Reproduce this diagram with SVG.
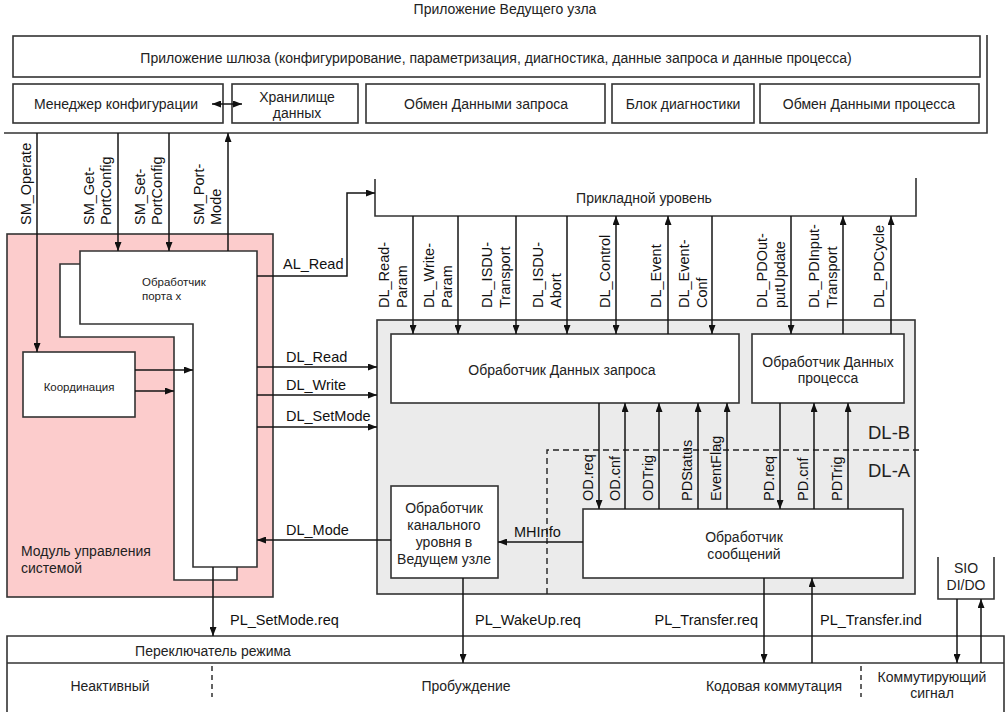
<svg xmlns="http://www.w3.org/2000/svg" width="1007" height="714" viewBox="0 0 1007 714">
<style>
.box{fill:#fff;stroke:#333;stroke-width:1.6}
.ln{fill:none;stroke:#151515;stroke-width:1.5}
.ar{marker-end:url(#ah)}
.ar2{marker-end:url(#ah);marker-start:url(#ah)}
.dash{fill:none;stroke:#222;stroke-width:1.4;stroke-dasharray:6,4}
text{font-family:"Liberation Sans",Arial,sans-serif;font-size:14px;fill:#222}
.m{text-anchor:middle}
.sig{font-size:14.5px;fill:#111}
.sm{font-size:11.5px}
.big{font-size:18.5px}
</style>
<defs>
<marker id="ah" viewBox="0 0 9 7" refX="9" refY="3.5" markerWidth="9" markerHeight="7" markerUnits="userSpaceOnUse" orient="auto-start-reverse">
<path d="M0,0 L9,3.5 L0,7 z" fill="#111"/>
</marker>
</defs>
<rect width="1007" height="714" fill="#fff"/>

<text class="m" x="505" y="14">Приложение Ведущего узла</text>

<g id="host-frame">
<polyline class="ln" points="4,133 987,133 987,35" style="stroke:#333;stroke-width:1.6"/>
</g>
<g id="gateway">
<rect class="box" x="13" y="36" width="967" height="41"/>
<text class="m" x="496" y="63">Приложение шлюза (конфигурирование, параметризация, диагностика, данные запроса и данные процесса)</text>
</g>
<g id="config-manager">
<rect class="box" x="13" y="84" width="210" height="39"/>
<text class="m" x="116" y="109">Менеджер конфигурации</text>
</g>
<g id="data-storage">
<rect class="box" x="232" y="84" width="126" height="39"/>
<text class="m" x="297" y="102">Хранилище</text>
<text class="m" x="297" y="118">данных</text>
</g>
<g id="od-exchange">
<rect class="box" x="366" y="84" width="239" height="39"/>
<text class="m" x="486" y="109">Обмен Данными запроса</text>
</g>
<g id="diag-unit">
<rect class="box" x="612" y="84" width="142" height="39"/>
<text class="m" x="683" y="109">Блок диагностики</text>
</g>
<g id="pd-exchange">
<rect class="box" x="760" y="84" width="219" height="39"/>
<text class="m" x="869" y="109">Обмен Данными процесса</text>
</g>

<g id="system-management">
<rect x="7" y="234" width="266" height="363" fill="#fccccc" stroke="#333" stroke-width="1.6"/>
<text x="21" y="556">Модуль управления</text>
<text x="21" y="573">системой</text>
</g>
<g id="port-handler">
<path class="box" d="M60,264 H237 V580 H174 V337 H60 Z"/>
<path class="box" d="M80,251 H257 V567 H193 V324 H80 Z"/>
<text class="sm" x="142" y="286">Обработчик</text>
<text class="sm" x="142" y="300">порта x</text>
</g>
<g id="coordination">
<rect class="box" x="23" y="352" width="112" height="65"/>
<text class="m sm" x="79" y="391">Координация</text>
</g>

<g id="application-layer">
<polyline class="ln" points="375,179 375,216 916,216 916,178" style="stroke:#333;stroke-width:1.6"/>
<text class="m" x="644" y="203">Прикладной уровень</text>
</g>

<g id="dl-layer">
<rect x="377" y="320" width="538" height="274" fill="#ebebeb" stroke="#333" stroke-width="1.6"/>
<text class="big" x="868" y="439">DL-B</text>
<text class="big" x="868" y="477">DL-A</text>
<path class="dash" d="M547,594 V450 H921"/>
</g>
<g id="od-handler">
<rect class="box" x="391" y="334" width="348" height="69"/>
<text class="m" x="562" y="375">Обработчик Данных запроса</text>
</g>
<g id="pd-handler">
<rect class="box" x="752" y="334" width="152" height="69"/>
<text class="m" x="828" y="367">Обработчик Данных</text>
<text class="m" x="828" y="383">процесса</text>
</g>
<g id="message-handler">
<rect class="box" x="583" y="509" width="320" height="69"/>
<text class="m" x="744" y="542">Обработчик</text>
<text class="m" x="744" y="559">сообщений</text>
</g>
<g id="dl-mode-handler">
<rect class="box" x="391" y="486" width="107" height="92"/>
<text class="m" x="444" y="513">Обработчик</text>
<text class="m" x="444" y="530">канального</text>
<text class="m" x="444" y="547">уровня в</text>
<text class="m" x="444" y="564">Ведущем узле</text>
</g>
<g id="sio">
<polyline class="ln" points="938,557 938,599 994,599 994,557" style="stroke:#333;stroke-width:1.6"/>
<text class="m" x="966" y="573">SIO</text>
<text class="m" x="966" y="590">DI/DO</text>
</g>

<g id="mode-switch">
<polyline class="ln" points="7,712 7,636 1004,636 1004,712" style="stroke:#333;stroke-width:1.6"/>
<line class="ln" x1="7" y1="663" x2="1004" y2="663" style="stroke:#333;stroke-width:1.6"/>
<text class="m" x="213" y="656">Переключатель режима</text>
<line class="dash" x1="212" y1="666" x2="212" y2="697" style="stroke-dasharray:5,4"/>
<line class="dash" x1="861" y1="666" x2="861" y2="697" style="stroke-dasharray:5,4"/>
<text class="m" x="110" y="691">Неактивный</text>
<text class="m" x="466" y="691">Пробуждение</text>
<text class="m" x="774" y="691">Кодовая коммутация</text>
<text class="m" x="932" y="682">Коммутирующий</text>
<text class="m" x="932" y="698">сигнал</text>
</g>

<g id="connectors">
<line class="ln ar2" x1="212" y1="104" x2="242" y2="104"/>
<line class="ln ar" x1="37" y1="133" x2="37" y2="352"/>
<line class="ln ar" x1="118" y1="133" x2="118" y2="251"/>
<line class="ln ar" x1="169" y1="133" x2="169" y2="251"/>
<line class="ln ar" x1="228" y1="251" x2="228" y2="133"/>
<polyline class="ln ar" points="257,276 347,276 347,193 375,193"/>
<line class="ln ar" x1="257" y1="367" x2="377" y2="367"/>
<line class="ln ar" x1="257" y1="395" x2="377" y2="395"/>
<line class="ln ar" x1="257" y1="427" x2="377" y2="427"/>
<line class="ln ar" x1="391" y1="540" x2="257" y2="540"/>
<line class="ln ar" x1="135" y1="370" x2="193" y2="370"/>
<line class="ln ar" x1="135" y1="391" x2="174" y2="391"/>
<line class="ln ar" x1="413" y1="216" x2="413" y2="334"/>
<line class="ln ar" x1="458" y1="216" x2="458" y2="334"/>
<line class="ln ar" x1="516" y1="216" x2="516" y2="334"/>
<line class="ln ar" x1="567" y1="216" x2="567" y2="334"/>
<line class="ln ar2" x1="616" y1="216" x2="616" y2="334"/>
<line class="ln ar" x1="668" y1="334" x2="668" y2="216"/>
<line class="ln ar" x1="712" y1="216" x2="712" y2="334"/>
<line class="ln ar" x1="791" y1="216" x2="791" y2="334"/>
<line class="ln ar" x1="843" y1="334" x2="843" y2="216"/>
<line class="ln ar" x1="891" y1="334" x2="891" y2="216"/>
<line class="ln ar" x1="599" y1="403" x2="599" y2="509"/>
<line class="ln ar" x1="625" y1="509" x2="625" y2="403"/>
<line class="ln ar" x1="659" y1="509" x2="659" y2="403"/>
<line class="ln ar" x1="698" y1="509" x2="698" y2="403"/>
<line class="ln ar" x1="727" y1="509" x2="727" y2="403"/>
<line class="ln ar" x1="780" y1="403" x2="780" y2="509"/>
<line class="ln ar" x1="814" y1="509" x2="814" y2="403"/>
<line class="ln ar" x1="848" y1="509" x2="848" y2="403"/>
<line class="ln ar" x1="583" y1="542" x2="498" y2="542"/>
<line class="ln ar" x1="213" y1="567" x2="213" y2="636"/>
<line class="ln ar" x1="463" y1="578" x2="463" y2="663"/>
<line class="ln ar" x1="764" y1="578" x2="764" y2="663"/>
<line class="ln ar" x1="812" y1="663" x2="812" y2="578"/>
<line class="ln ar" x1="957" y1="599" x2="957" y2="663"/>
<line class="ln ar" x1="981" y1="663" x2="981" y2="599"/>

<text class="sig" transform="translate(31,225) rotate(-90)">SM_Operate</text>
<text class="sig" transform="translate(94,225) rotate(-90)"><tspan x="0" y="0">SM_Get-</tspan><tspan x="0" y="17">PortConfig</tspan></text>
<text class="sig" transform="translate(145,225) rotate(-90)"><tspan x="0" y="0">SM_Set-</tspan><tspan x="0" y="17">PortConfig</tspan></text>
<text class="sig" transform="translate(204,225) rotate(-90)"><tspan x="0" y="0">SM_Port-</tspan><tspan x="0" y="17">Mode</tspan></text>

<text class="sig" x="283" y="269">AL_Read</text>
<text class="sig" x="286" y="362">DL_Read</text>
<text class="sig" x="286" y="390">DL_Write</text>
<text class="sig" x="286" y="421">DL_SetMode</text>
<text class="sig" x="286" y="535">DL_Mode</text>
<text class="sig" x="514" y="537">MHInfo</text>

<text class="sig" transform="translate(389,308) rotate(-90)"><tspan x="0" y="0">DL_Read-</tspan><tspan x="0" y="18">Param</tspan></text>
<text class="sig" transform="translate(434,308) rotate(-90)"><tspan x="0" y="0">DL_Write-</tspan><tspan x="0" y="18">Param</tspan></text>
<text class="sig" transform="translate(492,308) rotate(-90)"><tspan x="0" y="0">DL_ISDU-</tspan><tspan x="0" y="18">Transport</tspan></text>
<text class="sig" transform="translate(543,308) rotate(-90)"><tspan x="0" y="0">DL_ISDU-</tspan><tspan x="0" y="18">Abort</tspan></text>
<text class="sig" transform="translate(610,308) rotate(-90)">DL_Control</text>
<text class="sig" transform="translate(661,308) rotate(-90)">DL_Event</text>
<text class="sig" transform="translate(689,308) rotate(-90)"><tspan x="0" y="0">DL_Event-</tspan><tspan x="0" y="18">Conf</tspan></text>
<text class="sig" transform="translate(767,308) rotate(-90)"><tspan x="0" y="0">DL_PDOut-</tspan><tspan x="0" y="18">putUpdate</tspan></text>
<text class="sig" transform="translate(819,308) rotate(-90)"><tspan x="0" y="0">DL_PDInput-</tspan><tspan x="0" y="18">Transport</tspan></text>
<text class="sig" transform="translate(884,308) rotate(-90)">DL_PDCycle</text>

<text class="sig" transform="translate(593,501) rotate(-90)">OD.req</text>
<text class="sig" transform="translate(620,501) rotate(-90)">OD.cnf</text>
<text class="sig" transform="translate(653,501) rotate(-90)">ODTrig</text>
<text class="sig" transform="translate(692,501) rotate(-90)">PDStatus</text>
<text class="sig" transform="translate(721,501) rotate(-90)">EventFlag</text>
<text class="sig" transform="translate(774,501) rotate(-90)">PD.req</text>
<text class="sig" transform="translate(808,501) rotate(-90)">PD.cnf</text>
<text class="sig" transform="translate(842,501) rotate(-90)">PDTrig</text>

<text class="sig" x="230" y="625">PL_SetMode.req</text>
<text class="sig" x="475" y="625">PL_WakeUp.req</text>
<text class="sig" x="758" y="625" text-anchor="end">PL_Transfer.req</text>
<text class="sig" x="820" y="625">PL_Transfer.ind</text>
</g>
</svg>
